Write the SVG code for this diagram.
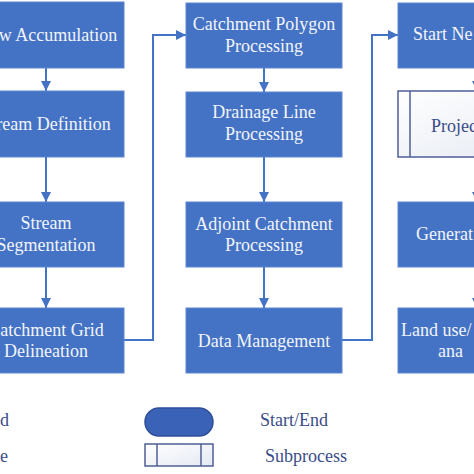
<svg xmlns="http://www.w3.org/2000/svg" width="474" height="474" viewBox="0 0 474 474">
<style>
.box{fill:#4472C4;stroke:#5A86D2;stroke-width:1}
text{font-size:18px}
.t{fill:#F2F5FB;text-anchor:middle}
.ts{fill:#F2F5FB}
.lt{fill:#3A4C8A}
.c{fill:none;stroke:#4472C4;stroke-width:2}
.sub{fill:url(#g);stroke:#4F5F96;stroke-width:1.5}
</style>
<defs>
<linearGradient id="g" x1="0" y1="0" x2="1" y2="1">
<stop offset="0" stop-color="#FFFFFF"/>
<stop offset="1" stop-color="#E4E9F2"/>
</linearGradient>
<marker id="a" viewBox="0 0 10 10" refX="10" refY="5" markerWidth="5" markerHeight="5" orient="auto" markerUnits="strokeWidth">
<path d="M0,0 L10,5 L0,10 z" fill="#4472C4"/>
</marker>
</defs>
<g id="connectors">
<line class="c" x1="46" y1="68" x2="46" y2="91" marker-end="url(#a)"/>
<line class="c" x1="46" y1="157" x2="46" y2="202" marker-end="url(#a)"/>
<line class="c" x1="46" y1="267" x2="46" y2="308" marker-end="url(#a)"/>
<line class="c" x1="264" y1="68" x2="264" y2="92" marker-end="url(#a)"/>
<line class="c" x1="264" y1="157" x2="264" y2="202" marker-end="url(#a)"/>
<line class="c" x1="264" y1="267" x2="264" y2="308" marker-end="url(#a)"/>
<line class="c" x1="477" y1="68" x2="477" y2="91" marker-end="url(#a)"/>
<line class="c" x1="477" y1="157" x2="477" y2="202" marker-end="url(#a)"/>
<line class="c" x1="477" y1="267" x2="477" y2="308" marker-end="url(#a)"/>
<polyline class="c" points="124,340 153,340 153,35 186,35" marker-end="url(#a)"/>
<polyline class="c" points="342,340 372,340 372,35 398,35" marker-end="url(#a)"/>
</g>
<g font-family="Liberation Serif, serif">
<g id="flow-accumulation"><rect class="box" x="-32" y="2" width="156" height="66"/><text class="t" x="46" y="41">Flow Accumulation</text></g>
<g id="stream-definition"><rect class="box" x="-32" y="91" width="156" height="66"/><text class="t" x="46" y="130">Stream Definition</text></g>
<g id="stream-segmentation"><rect class="box" x="-32" y="202" width="156" height="65"/><text class="t" x="46" y="229">Stream</text><text class="t" x="46" y="251">Segmentation</text></g>
<g id="catchment-grid"><rect class="box" x="-32" y="308" width="156" height="65"/><text class="t" x="46" y="336">Catchment Grid</text><text class="t" x="46" y="357">Delineation</text></g>
<g id="catchment-polygon"><rect class="box" x="186" y="3" width="156" height="65"/><text class="t" x="264" y="30">Catchment Polygon</text><text class="t" x="264" y="52">Processing</text></g>
<g id="drainage-line"><rect class="box" x="186" y="92" width="156" height="65"/><text class="t" x="264" y="118">Drainage Line</text><text class="t" x="264" y="140">Processing</text></g>
<g id="adjoint-catchment"><rect class="box" x="186" y="202" width="156" height="65"/><text class="t" x="264" y="230">Adjoint Catchment</text><text class="t" x="264" y="251">Processing</text></g>
<g id="data-management"><rect class="box" x="186" y="308" width="156" height="65"/><text class="t" x="264" y="347">Data Management</text></g>
<g id="start-new"><rect class="box" x="398" y="3" width="156" height="65"/><text class="ts" x="413" y="40">Start Ne</text></g>
<g id="project"><rect class="sub" x="398" y="91" width="156" height="66"/><line x1="410" y1="91" x2="410" y2="157" stroke="#4F5F96" stroke-width="1.5"/><text class="lt" x="431" y="132">Projec</text></g>
<g id="generate"><rect class="box" x="398" y="202" width="156" height="65"/><text class="ts" x="416" y="240">Generat</text></g>
<g id="land-use"><rect class="box" x="398" y="308" width="156" height="65"/><text class="ts" x="401" y="336">Land use/</text><text class="ts" x="438" y="357">ana</text></g>
<g id="legend">
<text class="lt" x="0" y="426">d</text>
<text class="lt" x="0" y="462">e</text>
<rect x="145" y="408" width="68" height="28" rx="14" fill="#3A63B8" stroke="#2F4F9A" stroke-width="1.5"/>
<text class="lt" x="260" y="426">Start/End</text>
<rect class="sub" x="145" y="444" width="68" height="22"/>
<line x1="157" y1="444" x2="157" y2="466" stroke="#4F5F96" stroke-width="1.5"/>
<line x1="201" y1="444" x2="201" y2="466" stroke="#4F5F96" stroke-width="1.5"/>
<text class="lt" x="265" y="462">Subprocess</text>
</g>
</g>
</svg>
